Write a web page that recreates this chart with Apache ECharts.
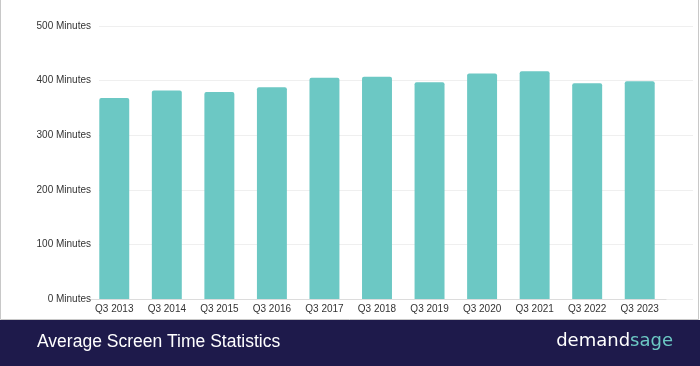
<!DOCTYPE html>
<html><head><meta charset="utf-8">
<script src="https://cdn.jsdelivr.net/npm/echarts@6/dist/echarts.min.js"></script>
<style>html,body{margin:0;padding:0;background:#fff}#c{width:700px;height:366px}</style>
</head><body><div id="c"></div>
<script>
const categories = ['Q3 2013','Q3 2014','Q3 2015','Q3 2016','Q3 2017','Q3 2018','Q3 2019','Q3 2020','Q3 2021','Q3 2022','Q3 2023'];
const minutes = [368, 382, 379, 388, 405, 407, 397, 413, 417, 395, 399];
const yTicks = [0, 100, 200, 300, 400, 500];
const title = 'Average Screen Time Statistics';

const chart = echarts.init(document.getElementById('c'), null, {renderer:'canvas'});
const font = '"Liberation Sans", Arial, sans-serif';
chart.setOption({
  animation:false,
  grid:[
    {left:88, right:34, top:26, bottom:67},
    {left:99, right:7, top:26, bottom:67}
  ],
  xAxis:[
    {type:'category', gridIndex:0, data:categories,
     axisLine:{show:true, lineStyle:{color:'#dcdcdc'}}, axisTick:{show:false},
     axisLabel:{interval:0, color:'#333', fontSize:10, fontFamily:font, margin:5}},
    {type:'value', gridIndex:1, show:false, min:0, max:1}
  ],
  yAxis:[
    {type:'value', gridIndex:0, min:0, max:500, interval:100, show:false, splitLine:{show:false}},
    {type:'value', gridIndex:1, min:0, max:500, interval:100,
     axisLine:{show:false}, axisTick:{show:false},
     splitLine:{lineStyle:{color:'#efefef'}},
     axisLabel:{color:'#333', fontSize:10, fontFamily:font, margin:8,
       formatter:v => yTicks.includes(v) ? v + ' Minutes' : ''}}
  ],
  series:[{
    type:'bar', xAxisIndex:0, yAxisIndex:0, data:minutes, barWidth:'57%',
    itemStyle:{color:'#6cc8c4', borderRadius:[2,2,0,0]}
  }],
  graphic:[
    {type:'rect', shape:{x:0.5, y:-1, width:698, height:320.5}, style:{fill:'none', stroke:'#c8c8c8', lineWidth:1}, z:10},
    {type:'rect', shape:{x:0, y:320, width:700, height:46}, style:{fill:'#1e1a4b'}, z:10},
    {type:'text', x:37, y:342, style:{text:title, fill:'#ffffff', font:'17.5px ' + font, textVerticalAlign:'middle'}, z:11},
    {type:'text', x:673, y:341, style:{
      text:'{a|demand}{b|sage}', align:'right', textAlign:'right', textVerticalAlign:'middle',
      rich:{a:{fill:'#ffffff', fontSize:18, fontFamily:'"DejaVu Sans", sans-serif'}, b:{fill:'#6cc8c4', fontSize:18, fontFamily:'"DejaVu Sans", sans-serif'}}
    }, z:11}
  ]
});
</script></body></html>
